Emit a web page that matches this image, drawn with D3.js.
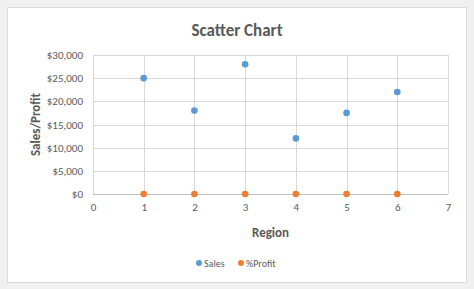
<!DOCTYPE html>
<html>
<head>
<meta charset="utf-8">
<script src="https://cdn.jsdelivr.net/npm/d3@7"></script>
<style>
  html, body { margin: 0; padding: 0; background: #f0f0f0; }
  svg { display: block; font-family: Calibri, Carlito, "Open Sans", sans-serif; }
</style>
</head>
<body>
<svg id="chart" width="474" height="289"></svg>
<script>
// data
const regions = [1, 2, 3, 4, 5, 6];
const sales = [25000, 18000, 28000, 12000, 17500, 22000];
const profit = [0.12, 0.1, 0.15, 0.08, 0.11, 0.14];
const xTicks = [0, 1, 2, 3, 4, 5, 6, 7];
const yTicks = [0, 5000, 10000, 15000, 20000, 25000, 30000];
const seriesNames = ["Sales", "%Profit"];
const seriesColors = ["#5b9bd5", "#ed7d31"];

const margin = {top: 55, right: 26, bottom: 95, left: 93};
const width = 474, height = 289;

const svg = d3.select("#chart");

// chart frame
svg.append("rect")
    .attr("x", 7.5).attr("y", 7.5)
    .attr("width", 459).attr("height", 275)
    .attr("fill", "#fff")
    .attr("stroke", "#d9d9d9");

const x = d3.scaleLinear()
    .domain([0, 7])
    .range([margin.left, width - margin.right]);
const y = d3.scaleLinear()
    .domain([0, 30000])
    .range([height - margin.bottom, margin.top]);

// gridlines
svg.append("g")
    .selectAll("line")
    .data(yTicks)
    .enter().append("line")
        .attr("x1", x(0)).attr("x2", x(7))
        .attr("y1", d => Math.round(y(d)) + 0.5)
        .attr("y2", d => Math.round(y(d)) + 0.5)
        .attr("stroke", "#d9d9d9");

svg.append("g")
    .selectAll("line")
    .data(xTicks)
    .enter().append("line")
        .attr("x1", d => Math.round(x(d)) + 0.5)
        .attr("x2", d => Math.round(x(d)) + 0.5)
        .attr("y1", y(0)).attr("y2", y(30000))
        .attr("stroke", "#d9d9d9");

// bottom axis line
svg.append("line")
    .attr("x1", x(0)).attr("x2", x(7))
    .attr("y1", Math.round(y(0)) + 0.5).attr("y2", Math.round(y(0)) + 0.5)
    .attr("stroke", "#bfbfbf");

const yAxis = g => {
    g.attr("transform", `translate(${x(0)}, 0)`)
        .call(d3.axisLeft(y).tickValues(yTicks).tickSize(0).tickPadding(10)
            .tickFormat(d => "$" + d3.format(",")(d)));
    g.select(".domain").remove();
    g.selectAll("text")
        .attr("fill", "#595959")
        .style("font-size", "11px")
        .style("font-family", "Calibri, Carlito, 'Open Sans', sans-serif");
};

const xAxis = g => {
    g.attr("transform", `translate(0, ${y(0)})`)
        .call(d3.axisBottom(x).tickValues(xTicks).tickSize(0).tickPadding(9)
            .tickFormat(d3.format("d")));
    g.select(".domain").remove();
    g.selectAll("text")
        .attr("fill", "#595959")
        .style("font-size", "11px")
        .style("font-family", "Calibri, Carlito, 'Open Sans', sans-serif");
};

svg.append("g").call(yAxis);
svg.append("g").call(xAxis);

// markers
const series = [sales, profit];
series.forEach((vals, s) => {
    svg.append("g")
        .selectAll("circle")
        .data(vals)
        .enter().append("circle")
            .attr("cx", (d, i) => x(regions[i]))
            .attr("cy", d => y(d))
            .attr("r", 3.3)
            .attr("fill", seriesColors[s]);
});

// titles
svg.append("text")
    .attr("x", 237).attr("y", 36)
    .attr("text-anchor", "middle")
    .attr("fill", "#595959")
    .style("font-size", "17px")
    .style("font-weight", "bold")
    .text("Scatter Chart");

svg.append("text")
    .attr("transform", `translate(40, ${(y(0) + y(30000)) / 2}) rotate(-90)`)
    .attr("text-anchor", "middle")
    .attr("fill", "#595959")
    .style("font-size", "13px")
    .style("font-weight", "bold")
    .text("Sales/Profit");

svg.append("text")
    .attr("x", (x(0) + x(7)) / 2).attr("y", 237)
    .attr("text-anchor", "middle")
    .attr("fill", "#595959")
    .style("font-size", "13px")
    .style("font-weight", "bold")
    .text("Region");

// legend
const legend = svg.append("g")
    .selectAll("g")
    .data(seriesNames)
    .enter().append("g")
        .attr("transform", (d, i) => `translate(${199 + i * 42}, 263)`);

legend.append("circle")
    .attr("r", 3)
    .attr("fill", (d, i) => seriesColors[i]);

legend.append("text")
    .attr("x", 5)
    .attr("dy", "0.35em")
    .attr("fill", "#595959")
    .style("font-size", "10px")
    .text(d => d);
</script>
</body>
</html>
